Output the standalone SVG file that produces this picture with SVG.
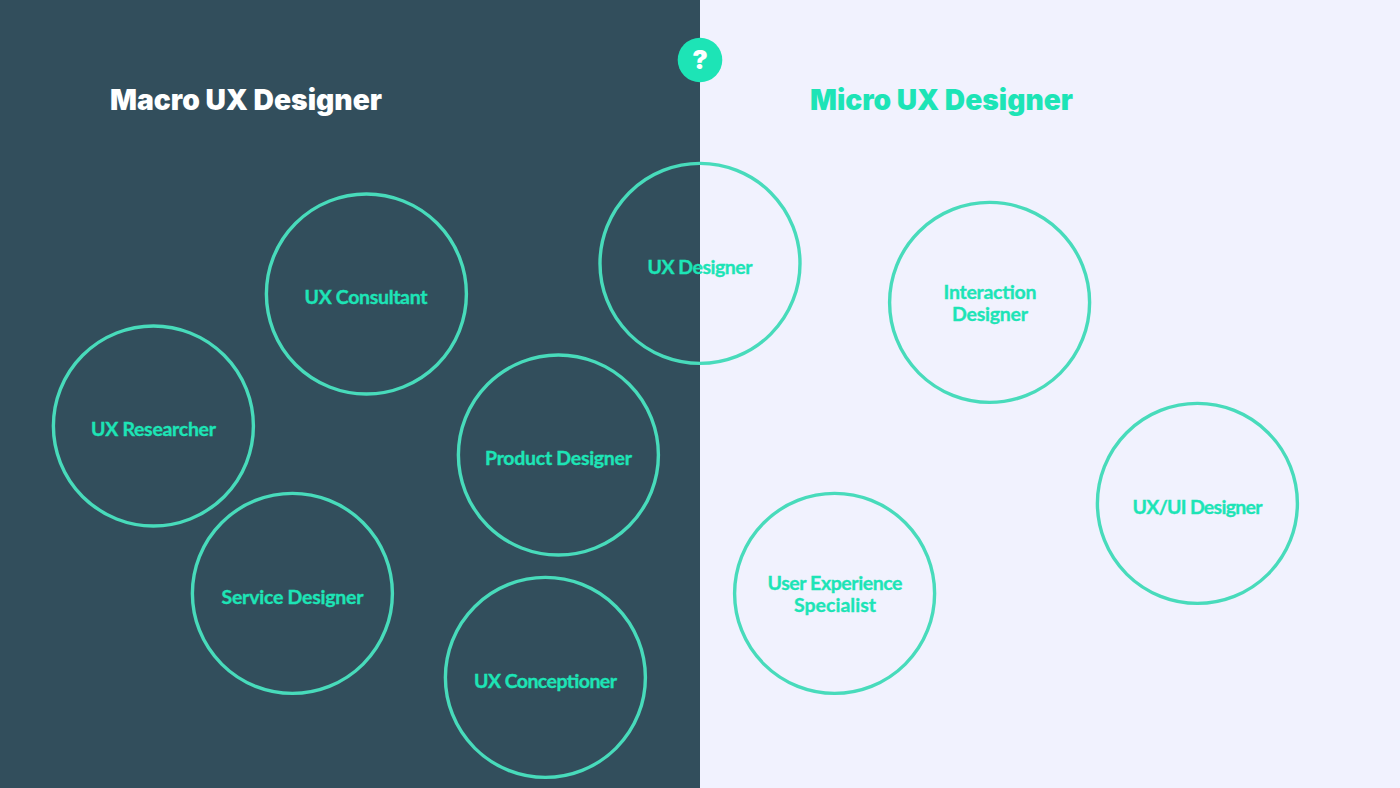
<svg xmlns="http://www.w3.org/2000/svg" width="1400" height="788" viewBox="0 0 1400 788">
<style>
.c{fill:none;stroke:#48dbbb;stroke-width:3.4}
.l{font-family:Lato,"Noto Sans",sans-serif;font-weight:700;font-size:19.5px;fill:#1de4b6;stroke:#1de4b6;stroke-width:.35;text-anchor:middle}
.h{font-family:Inter,"Noto Sans",sans-serif;font-weight:900;font-size:28px}
</style>
<g id="background">
<rect x="0" y="0" width="700" height="788" fill="#324e5c"/>
<rect x="700" y="0" width="700" height="788" fill="#f1f2fe"/>
</g>
<g id="question"><circle cx="700" cy="60" r="22.3" fill="#1de4b6"/><text x="700" y="69" text-anchor="middle" font-family="Inter,sans-serif" font-weight="900" font-size="26" fill="#fff">?</text></g>
<g id="macro-title"><text class="h" x="110" y="109.500" fill="#fff" textLength="272" lengthAdjust="spacingAndGlyphs">Macro UX Designer</text></g>
<g id="micro-title"><text class="h" x="810" y="109.500" fill="#1de4b6" textLength="263" lengthAdjust="spacingAndGlyphs">Micro UX Designer</text></g>
<g id="ux-consultant"><circle class="c" cx="366.4" cy="294" r="100"/><text class="l" x="366" y="304" textLength="123">UX Consultant</text></g>
<g id="ux-researcher"><circle class="c" cx="153.4" cy="426" r="100"/><text class="l" x="153.5" y="436" textLength="125">UX Researcher</text></g>
<g id="product-designer"><circle class="c" cx="558.4" cy="455" r="100"/><text class="l" x="558.5" y="465" textLength="147">Product Designer</text></g>
<g id="service-designer"><circle class="c" cx="292.4" cy="593.4" r="100"/><text class="l" x="292.5" y="604" textLength="142">Service Designer</text></g>
<g id="ux-conceptioner"><circle class="c" cx="545.4" cy="677.4" r="100"/><text class="l" x="545.5" y="688" textLength="143">UX Conceptioner</text></g>
<g id="ux-designer"><circle class="c" cx="700" cy="263.4" r="100"/><text class="l" x="700" y="273.500" textLength="105">UX Designer</text></g>
<g id="interaction-designer"><circle class="c" cx="989.6" cy="302.4" r="100"/><text class="l" x="990" y="299" textLength="93">Interaction</text><text class="l" x="990" y="321" textLength="76">Designer</text></g>
<g id="ux-ui-designer"><circle class="c" cx="1197.4" cy="503.4" r="100"/><text class="l" x="1197.5" y="513.500" textLength="130">UX/UI Designer</text></g>
<g id="user-experience-specialist"><circle class="c" cx="834.6" cy="593.4" r="100"/><text class="l" x="835" y="590" textLength="135">User Experience</text><text class="l" x="835" y="612" textLength="82">Specialist</text></g>
</svg>
